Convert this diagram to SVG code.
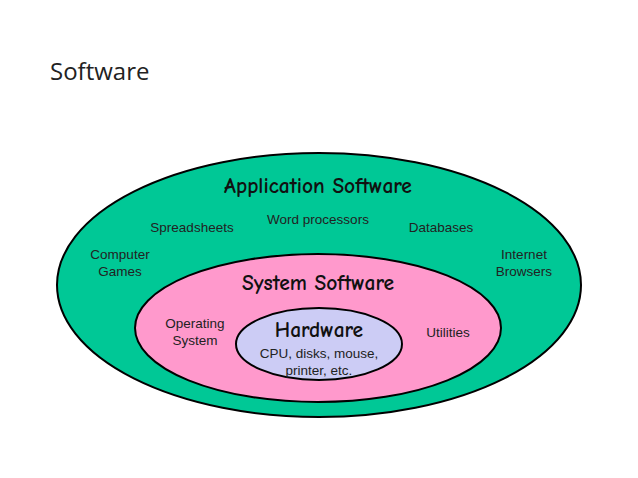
<svg xmlns="http://www.w3.org/2000/svg" width="638" height="478" viewBox="0 0 638 478">
<style>
.e{stroke:#000;stroke-width:2}
.t{font-family:"Liberation Sans",Arial,sans-serif;font-size:13.5px;fill:#222;text-anchor:middle}
.h{font-family:"Comic Neue","DejaVu Sans",sans-serif;font-size:21.5px;font-weight:bold;fill:#111;text-anchor:middle}
</style>
<rect width="638" height="478" fill="#fff"/>
<text x="50" y="80" font-family="Open Sans,Liberation Sans,sans-serif" font-size="24" fill="#222">Software</text>
<g id="application">
<ellipse class="e" cx="319" cy="285" rx="262" ry="132" fill="#00C896"/>
<text class="h" x="318" y="193">Application Software</text>
<text class="t" x="318" y="224">Word processors</text>
<text class="t" x="192" y="232">Spreadsheets</text>
<text class="t" x="441" y="232">Databases</text>
<text class="t" x="120" y="259">Computer</text>
<text class="t" x="120" y="276">Games</text>
<text class="t" x="524" y="259">Internet</text>
<text class="t" x="524" y="276">Browsers</text>
</g>
<g id="system">
<ellipse class="e" cx="318" cy="328" rx="183" ry="74" fill="#FF99CC"/>
<text class="h" x="318" y="290">System Software</text>
<text class="t" x="195" y="328">Operating</text>
<text class="t" x="195" y="345">System</text>
<text class="t" x="448" y="337">Utilities</text>
</g>
<g id="hardware">
<ellipse class="e" cx="319" cy="344" rx="83" ry="36" fill="#CCCCF5"/>
<text class="h" x="319" y="337">Hardware</text>
<text class="t" x="319" y="358">CPU, disks, mouse,</text>
<text class="t" x="319" y="375">printer, etc.</text>
</g>
<g id="connectors"/>
</svg>
